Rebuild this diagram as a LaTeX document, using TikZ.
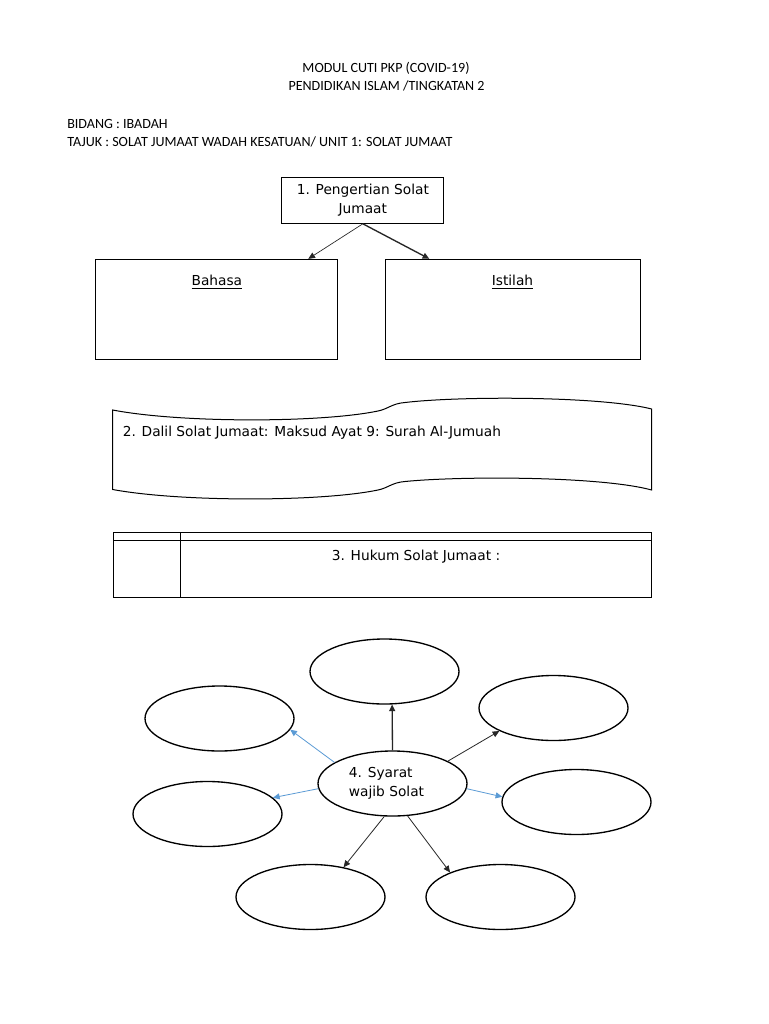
\documentclass[tikz,border=0pt]{standalone}
\usepackage{fontspec}
\setmainfont{DejaVu Sans}
\newfontfamily\hdrfont{Carlito}
\usepackage{tikz}
\usetikzlibrary{arrows.meta,positioning,calc,shapes.geometric}
\definecolor{wordblue}{HTML}{5B9BD5}

\begin{document}
\begin{tikzpicture}[x=0.75pt, y=-0.75pt, >={Triangle[length=5pt,width=4.5pt]},
  every node/.style={font=\fontsize{10.3}{14.25}\selectfont, inner sep=0pt}]
\tikzstyle{hdr}=[font=\hdrfont\fontsize{10.55}{13}\selectfont]
\tikzstyle{box}=[draw=black, line width=0.75pt, rectangle]
\tikzstyle{oval}=[draw=black, line width=1pt, ellipse, minimum width=111.75pt, minimum height=48.75pt]
\tikzstyle{arr}=[->, draw=black!85, line width=0.6pt]
\tikzstyle{arrb}=[->, draw=wordblue, line width=0.6pt]
\useasboundingbox (0,0) rectangle (768,1024);
\fill[white] (0,0) rectangle (768,1024);

% header
\node[hdr] (H1) at (386,68) {MODUL CUTI PKP (COVID-19)};
\node[hdr] (H2) at (386.5,86) {PENDIDIKAN ISLAM /TINGKATAN 2};
\node[hdr, anchor=west] (BD) at (67,124) {BIDANG : IBADAH};
\node[hdr, anchor=west] (TJ) at (67,141.5) {TAJUK : SOLAT JUMAAT WADAH KESATUAN/ UNIT 1: SOLAT JUMAAT};

% 1. pengertian
\node[box, minimum width=121.7pt, minimum height=34.5pt, align=center] (P) at (362.85,200.3) {1. Pengertian Solat\\Jumaat};
\node[box, minimum width=181.3pt, minimum height=75.5pt] (B) at (216.85,309.65) {};
\node[box, minimum width=191.25pt, minimum height=75.5pt] (I) at (512.5,309.65) {};
\node (Bt) at ([yshift=-17.5pt]B.north) {\underline{Bahasa}};
\node (It) at ([yshift=-17.5pt]I.north) {\underline{Istilah}};
\draw[arr, line width=0.5pt] (P.south) -- ([xshift=68.6pt]B.north);
\draw[arr, line width=1pt] (P.south) -- ([xshift=-62.4pt]I.north);

% 2. dalil (scroll)
\draw[black, line width=0.75pt]
  (112.7,410) .. controls (180,423) and (320,423) .. (378,411)
  .. controls (388,409) and (392,403.5) .. (405,402.5)
  .. controls (460,396) and (600,396) .. (651.7,409)
  -- (651.7,490)
  .. controls (600,476) and (460,476) .. (405,481.5)
  .. controls (392,482.5) and (388,488) .. (378,490)
  .. controls (320,502) and (180,502) .. (112.7,489.5) -- cycle;
\node[anchor=west] (D) at (122.5,433) {2. Dalil Solat Jumaat: Maksud Ayat 9: Surah Al-Jumuah};

% 3. hukum (table)
\draw[black, line width=0.75pt] (113,532) rectangle (651,597);
\draw[black, line width=0.75pt] (113,540) -- (651,540) (180,532) -- (180,597);
\node (K) at (416,557) {3. Hukum Solat Jumaat :};

% 4. syarat wajib
\node[oval, align=left] (C) at (392.5,783.5) {4. Syarat\\wajib Solat\hspace*{9pt}};
\node[oval] (T)  at (384.5,671.5) {};
\node[oval] (UL) at (219.5,718.5) {};
\node[oval] (UR) at (553.5,708) {};
\node[oval] (L)  at (207.5,814) {};
\node[oval] (R)  at (576.5,802) {};
\node[oval] (BL) at (310.5,897) {};
\node[oval] (BR) at (500.5,897) {};

\draw[arr, line width=1pt] (C.north) -- (T.283);
\draw[arr] (C.22) -- (UR.203);
\draw[arrb] (C.160) -- (UL.-9);
\draw[arrb] (C.184) -- (L.14);
\draw[arrb] (C.-4.5) -- (R.176);
\draw[arr] (C.256) -- (BL.42);
\draw[arr] (C.-65) -- (BR.154);
\end{tikzpicture}
\end{document}
